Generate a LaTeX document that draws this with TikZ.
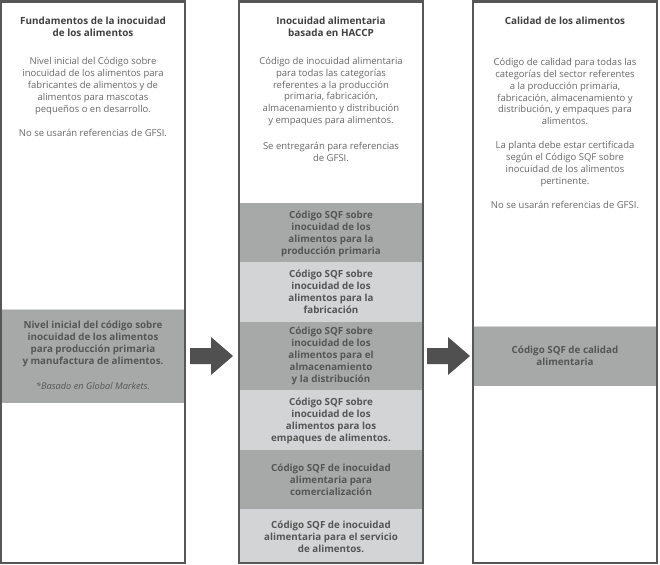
\documentclass[tikz,border=0pt]{standalone}
\usepackage{fontspec}
\setmainfont{Open Sans}
\definecolor{frame}{HTML}{575757}
\definecolor{darkfill}{HTML}{A7A9A9}
\definecolor{lightfill}{HTML}{D3D4D5}
\definecolor{titletext}{HTML}{404040}
\definecolor{bodytext}{HTML}{686868}
\definecolor{boxtext}{HTML}{555555}
\definecolor{arrowfill}{HTML}{505050}
\begin{document}
\begin{tikzpicture}[x=1pt,y=-1pt,
  colframe/.style={draw=frame,line width=2.4pt},
  darkband/.style={fill=darkfill},
  lightband/.style={fill=lightfill},
  title/.style={align=center,inner sep=0pt,text=titletext,font=\fontsize{9.9}{12}\selectfont\bfseries},
  body/.style={align=center,inner sep=0pt,text=bodytext,font=\fontsize{9.5}{11.9}\selectfont},
  bandtext/.style={align=center,inner sep=0pt,text=boxtext,font=\fontsize{9.8}{12}\selectfont\bfseries},
  notetext/.style={align=center,inner sep=0pt,text=boxtext,font=\fontsize{9.2}{12}\selectfont\itshape},
  blockarrow/.style={fill=arrowfill}]
\useasboundingbox (0,0) rectangle (660,564);
\fill[white] (0,0) rectangle (660,564);

% bands
\fill[darkband] (1,309) rectangle (185,403);
\draw[lightfill,line width=1pt] (1,309) -- (185,309);
\fill[darkband] (239,203) rectangle (423,262);
\fill[lightband] (239,262) rectangle (423,322);
\fill[darkband] (239,322) rectangle (423,390);
\fill[lightband] (239,390) rectangle (423,450);
\fill[darkband] (239,450) rectangle (423,509);
\fill[lightband] (239,509) rectangle (423,562);
\fill[darkband] (473,326) rectangle (657,386);
\draw[lightfill,line width=1pt] (473,326) -- (657,326);

% column frames
\draw[colframe] (1.2,1.5) rectangle (184.8,562.8);
\node[inner sep=0pt] (colA) at (93,282) {};
\draw[colframe] (239.2,1.5) rectangle (422.8,562.8);
\node[inner sep=0pt] (colB) at (331,282) {};
\draw[colframe] (473.2,1.5) rectangle (656.8,562.8);
\node[inner sep=0pt] (colC) at (565,282) {};

% arrows
\fill[blockarrow] (190,348) -- (211,348) -- (211,337) -- (233,356) -- (211,375) -- (211,364) -- (190,364) -- cycle;
\fill[blockarrow] (427,348) -- (448,348) -- (448,337) -- (470,356) -- (448,375) -- (448,364) -- (427,364) -- cycle;

% left column
\node[title] (tA) at (93,27) {Fundamentos de la inocuidad\\de los alimentos};
\node[body] (bA1) at (93,86) {Nivel inicial del Código sobre\\inocuidad de los alimentos para\\fabricantes de alimentos y de\\alimentos para mascotas\\pequeños o en desarrollo.};
\node[body] (bA2) at (93,133) {No se usarán referencias de GFSI.};
\node[bandtext] (gA) at (93,344) {Nivel inicial del código sobre\\inocuidad de los alimentos\\para producción primaria\\y manufactura de alimentos.};
\node[notetext] (nA) at (93,386) {*Basado en Global Markets.};

% middle column
\node[title] (tB) at (331,27) {Inocuidad alimentaria\\basada en HACCP};
\node[body] (bB1) at (331,91.5) {Código de inocuidad alimentaria\\para todas las categorías\\referentes a la producción\\primaria, fabricación,\\almacenamiento y distribución\\y empaques para alimentos.};
\node[body] (bB2) at (331,151.5) {Se entregarán para referencias\\de GFSI.};
\node[bandtext] (g1) at (331,233.5) {Código SQF sobre\\inocuidad de los\\alimentos para la\\producción primaria};
\node[bandtext] (g2) at (331,292) {Código SQF sobre\\inocuidad de los\\alimentos para la\\fabricación};
\node[bandtext] (g3) at (331,356) {Código SQF sobre\\inocuidad de los\\alimentos para el\\almacenamiento\\y la distribución};
\node[bandtext] (g4) at (331,420.5) {Código SQF sobre\\inocuidad de los\\alimentos para los\\empaques de alimentos.};
\node[bandtext] (g5) at (331,480) {Código SQF de inocuidad\\alimentaria para\\comercialización};
\node[bandtext] (g6) at (331,537) {Código SQF de inocuidad\\alimentaria para el servicio\\de alimentos.};

% right column
\node[title] (tC) at (565,21) {Calidad de los alimentos};
\node[body] (bC1) at (565,91.5) {Código de calidad para todas las\\categorías del sector referentes\\a la producción primaria,\\fabricación, almacenamiento y\\distribución, y empaques para\\alimentos.};
\node[body] (bC2) at (565,164) {La planta debe estar certificada\\según el Código SQF sobre\\inocuidad de los alimentos\\pertinente.};
\node[body] (bC3) at (565,205) {No se usarán referencias de GFSI.};
\node[bandtext] (gC) at (565,355.5) {Código SQF de calidad\\alimentaria};
\end{tikzpicture}
\end{document}
